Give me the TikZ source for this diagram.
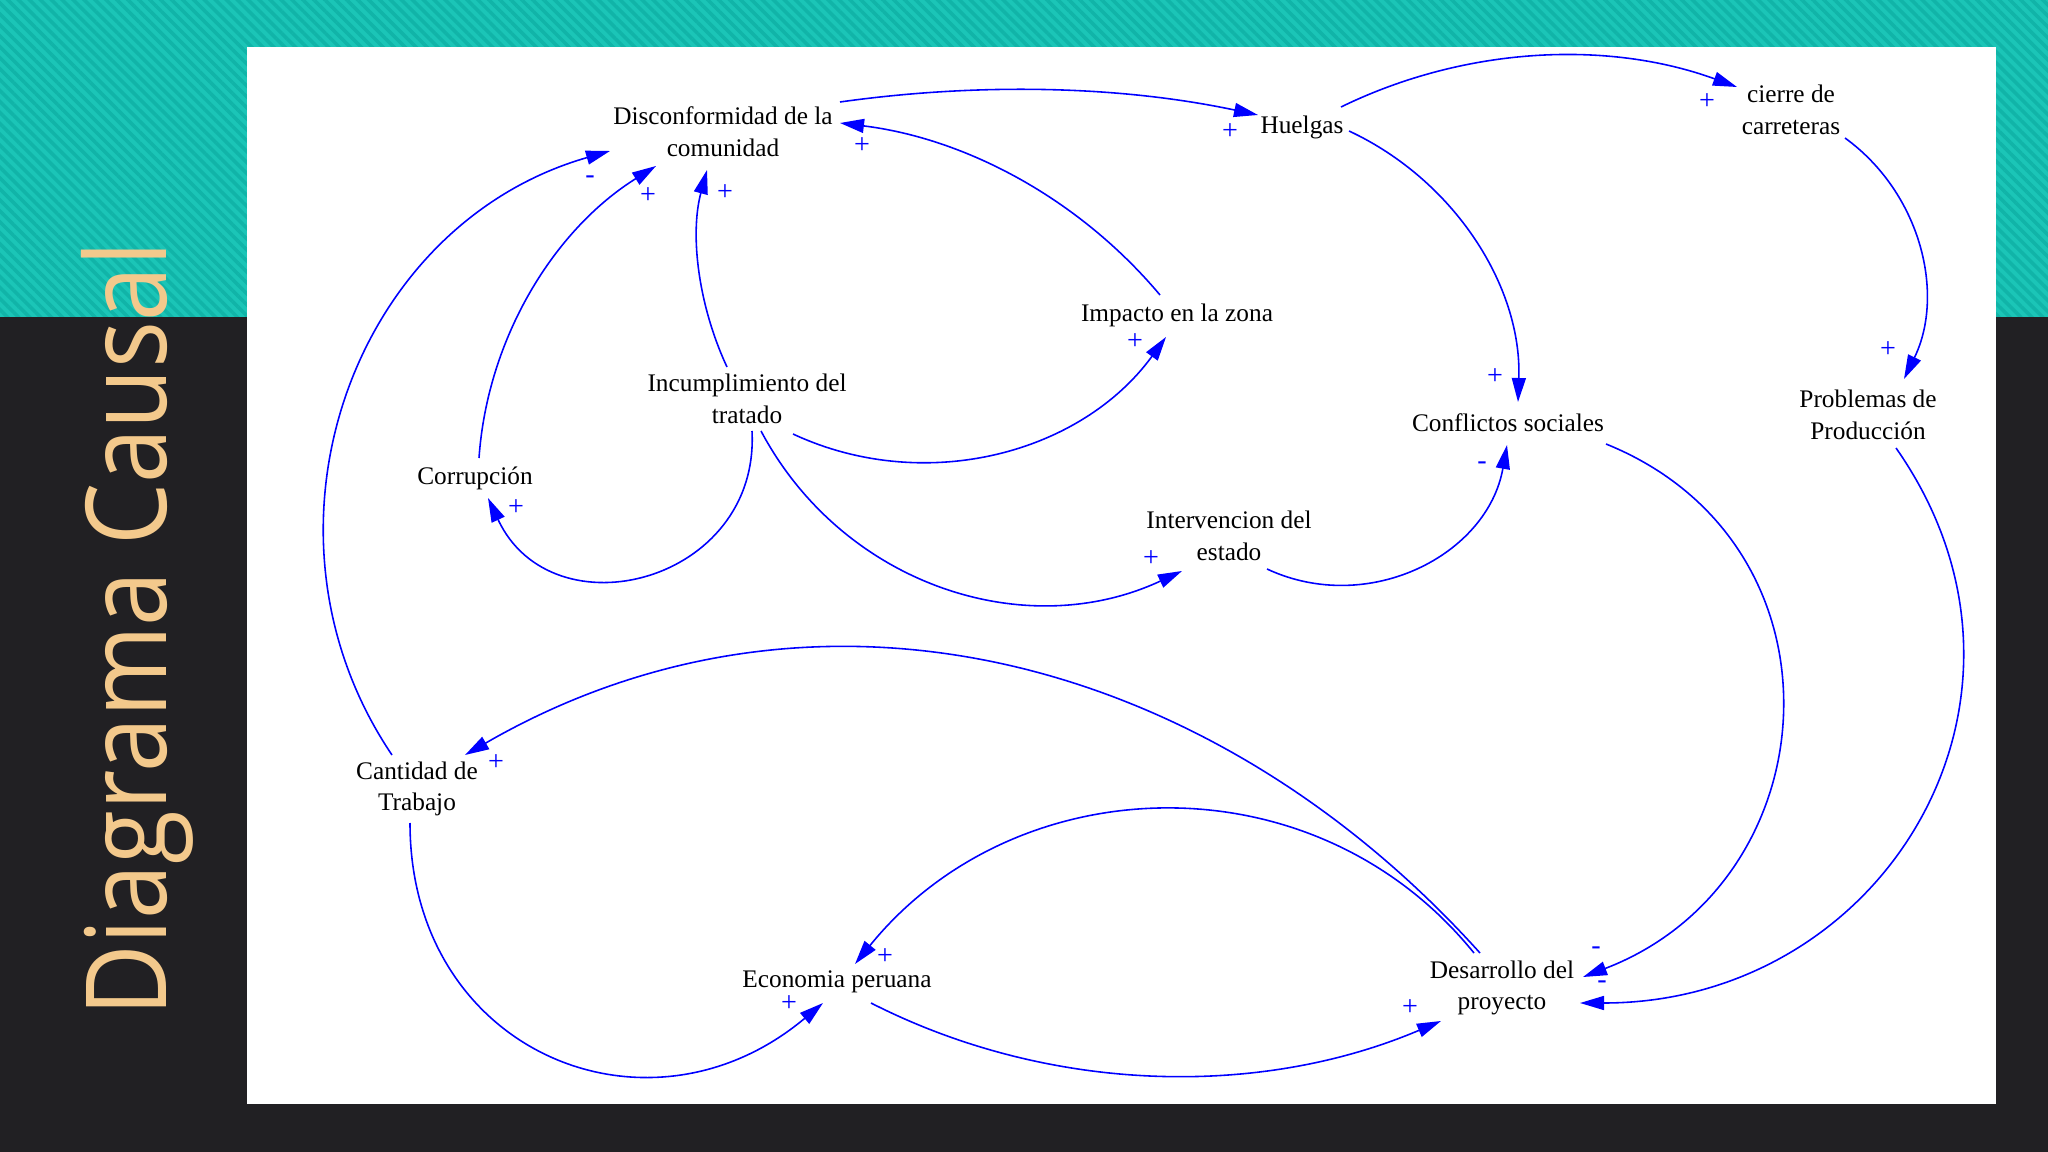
\documentclass[tikz,border=0pt]{standalone}
\usepackage{fontspec}
\setmainfont{Liberation Serif}
\newfontfamily\titlefont{Open Sans}
\usepackage{graphicx}
\usepackage{tikz}
\usetikzlibrary{arrows.meta,patterns.meta}

\definecolor{darkbg}{RGB}{33,32,35}
\definecolor{tealbg}{RGB}{27,197,183}
\definecolor{tealdk}{RGB}{17,180,168}
\definecolor{titlecol}{RGB}{243,201,140}

\begin{document}
\begin{tikzpicture}[x=0.01cm, y=-0.01cm,
  var/.style={align=center, inner sep=1pt, font=\fontsize{7.2}{9}\selectfont},
  lnk/.style={draw=blue, line width=0.45pt, -{Triangle[length=2.4mm,width=1.4mm]}},
  pol/.style={text=blue, inner sep=0pt, font=\fontsize{8}{8}\selectfont}]
\useasboundingbox (0,0) rectangle (2048,1152);
\fill[darkbg] (0,0) rectangle (2048,1152);
\fill[tealbg] (0,0) rectangle (2048,317);
\fill[pattern={Lines[angle=-45,distance=2.2pt,line width=1pt]}, pattern color=tealdk] (0,0) rectangle (2048,317);
\fill[white] (247,47) rectangle (1996,1104);
\node[rotate=90, text=titlecol, inner sep=0pt] (title) at (137,629) {\resizebox*{7.74cm}{1.12cm}{\titlefont Diagrama Causal}};

\node[var] (disc) at (723,132) {Disconformidad de la\\comunidad};
\node[var] (huel) at (1302,127) {Huelgas};
\node[var] (cierre) at (1791,110) {cierre de\\carreteras};
\node[var] (impacto) at (1177,315) {Impacto en la zona};
\node[var] (incump) at (747,399) {Incumplimiento del\\tratado};
\node[var] (conf) at (1508,423) {Conflictos sociales};
\node[var] (prob) at (1868,415) {Problemas de\\Producción};
\node[var] (corr) at (475,478) {Corrupción};
\node[var] (interv) at (1229,536) {Intervencion del\\estado};
\node[var] (cant) at (417,789) {Cantidad de\\Trabajo};
\node[var] (econ) at (837,982) {Economia peruana};
\node[var] (desa) at (1502,988) {Desarrollo del\\proyecto};

\draw[lnk] ([shift={(117,-30)}]disc.center) to[out=8, in=168, looseness=0.86] node[pol, at end, shift={(-28,17)}] {+} ([shift={(-44,-12)}]huel.center);
\draw[lnk] ([shift={(39,-20)}]huel.center) to[out=26, in=160, looseness=0.89] node[pol, at end, shift={(-30,15)}] {+} ([shift={(-54,-23)}]cierre.center);
\draw[lnk] ([shift={(47,4)}]huel.center) to[out=-25, in=88, looseness=0.93] node[pol, at end, shift={(-23,-25)}] {+} ([shift={(10,-21)}]conf.center);
\draw[lnk] ([shift={(54,28)}]cierre.center) to[out=-36, in=64, looseness=0.97] node[pol, at end, shift={(-16,-29)}] {+} ([shift={(36,-36)}]prob.center);
\draw[lnk] ([shift={(-17,-20)}]impacto.center) to[out=130, in=-7, looseness=0.89] node[pol, at end, shift={(22,23)}] {+} ([shift={(117,-9)}]disc.center);
\draw[lnk] ([shift={(-20,-32)}]incump.center) to[out=115, in=-105, looseness=0.87] node[pol, at end, shift={(18,23)}] {+} ([shift={(-16,38)}]disc.center);
\draw[lnk] ([shift={(46,35)}]incump.center) to[out=-25, in=-126, looseness=0.96] node[pol, at end, shift={(-31,5)}] {+} ([shift={(-11,22)}]impacto.center);
\draw[lnk] ([shift={(5,32)}]incump.center) to[out=-87, in=-65, looseness=1.43] node[pol, at end, shift={(28,10)}] {+} ([shift={(13,20)}]corr.center);
\draw[lnk] ([shift={(14,32)}]incump.center) to[out=-62, in=-155, looseness=1.0] node[pol, at end, shift={(-31,-12)}] {+} ([shift={(-47,35)}]interv.center);
\draw[lnk] ([shift={(4,-20)}]corr.center) to[out=86, in=-148, looseness=0.9] node[pol, at end, shift={(-8,30)}] {+} ([shift={(-67,34)}]disc.center);
\draw[lnk] ([shift={(-25,-34)}]cant.center) to[out=124, in=-164, looseness=1.07] node[pol, at end, shift={(-20,29)}] {-} ([shift={(-113,19)}]disc.center);
\draw[lnk] ([shift={(38,33)}]interv.center) to[out=-25, in=-100, looseness=1.06] node[pol, at end, shift={(-25,21)}] {-} ([shift={(-1,22)}]conf.center);
\draw[lnk] ([shift={(98,21)}]conf.center) to[out=-22, in=21, looseness=1.28] node[pol, at end, shift={(13,-26)}] {-} ([shift={(81,-11)}]desa.center);
\draw[lnk] ([shift={(28,33)}]prob.center) to[out=-55, in=0, looseness=1.22] node[pol, at end, shift={(22,-18)}] {-} ([shift={(78,15)}]desa.center);
\draw[lnk] ([shift={(-22,-35)}]desa.center) to[out=132, in=30, looseness=1.0] node[pol, at end, shift={(31,8)}] {+} ([shift={(48,-34)}]cant.center);
\draw[lnk] ([shift={(-28,-35)}]desa.center) to[out=129, in=51, looseness=1.05] node[pol, at end, shift={(30,-7)}] {+} ([shift={(18,-18)}]econ.center);
\draw[lnk] ([shift={(-7,34)}]cant.center) to[out=-90, in=-140, looseness=1.3] node[pol, at end, shift={(-34,1)}] {+} ([shift={(-14,21)}]econ.center);
\draw[lnk] ([shift={(34,21)}]econ.center) to[out=-27, in=-157, looseness=0.89] node[pol, at end, shift={(-31,-13)}] {+} ([shift={(-61,33)}]desa.center);
\end{tikzpicture}
\end{document}
